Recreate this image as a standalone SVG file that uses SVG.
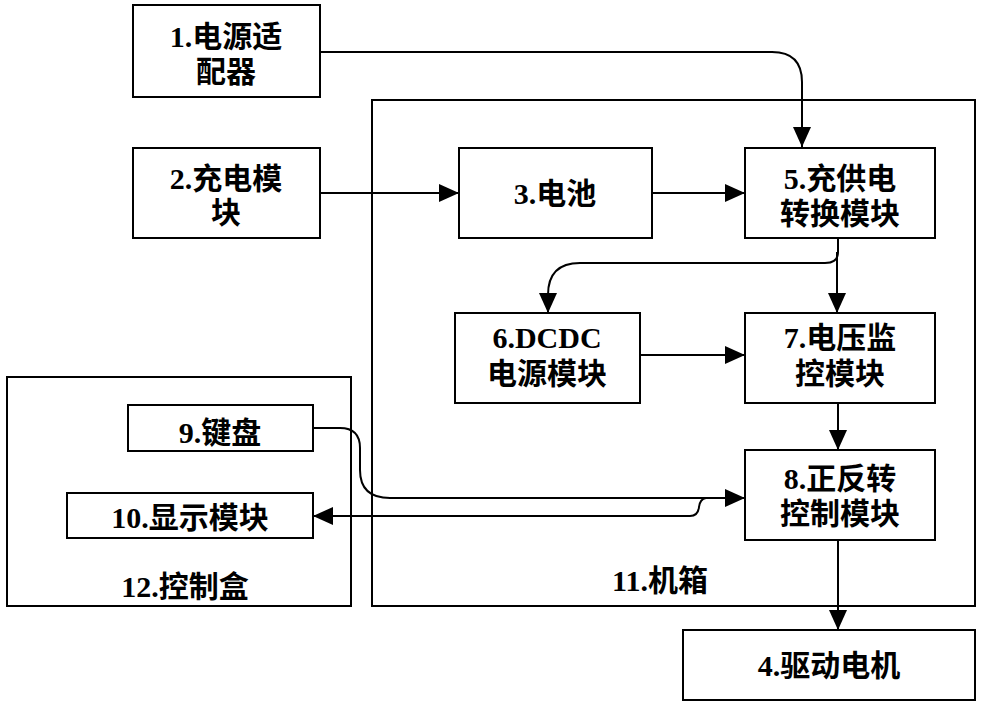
<svg xmlns="http://www.w3.org/2000/svg" width="1000" height="710" viewBox="0 0 1000 710">
<style>
.box{fill:#fff;stroke:#000;stroke-width:2}
.cont{fill:none;stroke:#000;stroke-width:2}
.t{font-family:"Liberation Serif","Noto Sans CJK SC",serif;font-weight:bold;font-size:30px;text-anchor:middle;fill:#000}
.c{fill:none;stroke:#000;stroke-width:2}
</style>
<defs>
<marker id="ah" viewBox="0 0 20 20" refX="20" refY="10" markerWidth="20" markerHeight="20" markerUnits="userSpaceOnUse" orient="auto">
<path d="M0,1 L20,10 L0,19 Z" fill="#000"/>
</marker>
</defs>
<rect width="1000" height="710" fill="#fff"/>
<g id="n11"><rect class="cont" x="372" y="100" width="603" height="506"/><text class="t" x="660" y="591">11.机箱</text></g>
<g id="n12"><rect class="cont" x="7" y="377" width="344" height="229"/><text class="t" x="185" y="597">12.控制盒</text></g>
<g id="n1"><rect class="box" x="133" y="5" width="187" height="92"/><text class="t" x="226" y="47">1.电源适</text><text class="t" x="226" y="82">配器</text></g>
<g id="n2"><rect class="box" x="133" y="148" width="187" height="90"/><text class="t" x="226" y="189">2.充电模</text><text class="t" x="226" y="223">块</text></g>
<g id="n3"><rect class="box" x="459" y="148" width="193" height="90"/><text class="t" x="555" y="204">3.电池</text></g>
<g id="n5"><rect class="box" x="745" y="148" width="190" height="90"/><text class="t" x="840" y="189">5.充供电</text><text class="t" x="840" y="224">转换模块</text></g>
<g id="n6"><rect class="box" x="455" y="313" width="185" height="90"/><text class="t" x="547" y="348">6.DCDC</text><text class="t" x="547" y="384">电源模块</text></g>
<g id="n7"><rect class="box" x="745" y="313" width="190" height="90"/><text class="t" x="840" y="348">7.电压监</text><text class="t" x="840" y="384">控模块</text></g>
<g id="n8"><rect class="box" x="745" y="450" width="190" height="90"/><text class="t" x="840" y="489">8.正反转</text><text class="t" x="840" y="524">控制模块</text></g>
<g id="n9"><rect class="box" x="128" y="405" width="185" height="46"/><text class="t" x="220" y="443">9.键盘</text></g>
<g id="n10"><rect class="box" x="67" y="493" width="246" height="45"/><text class="t" x="190" y="528">10.显示模块</text></g>
<g id="n4"><rect class="box" x="683" y="630" width="292" height="70"/><text class="t" x="829" y="676">4.驱动电机</text></g>
<g id="connectors">
<path class="c" d="M320,52 H772 Q802,52 802,82 V147" marker-end="url(#ah)"/>
<path class="c" d="M320,193 H459" marker-end="url(#ah)"/>
<path class="c" d="M652,193 H745" marker-end="url(#ah)"/>
<path class="c" d="M838,238 V252 Q838,263 825,263 H580 Q548,263 548,295 V313" marker-end="url(#ah)"/>
<path class="c" d="M837,252 V313" marker-end="url(#ah)"/>
<path class="c" d="M640,355 H745" marker-end="url(#ah)"/>
<path class="c" d="M838,403 V450" marker-end="url(#ah)"/>
<path class="c" d="M838,540 V630" marker-end="url(#ah)"/>
<path class="c" d="M313,428 H340 Q360,428 360,448 V470 Q360,498 390,498 H745" marker-end="url(#ah)"/>
<path class="c" d="M706,498 Q700,499 699,507 Q698,516 690,516 H313" marker-end="url(#ah)"/>
</g>
</svg>
